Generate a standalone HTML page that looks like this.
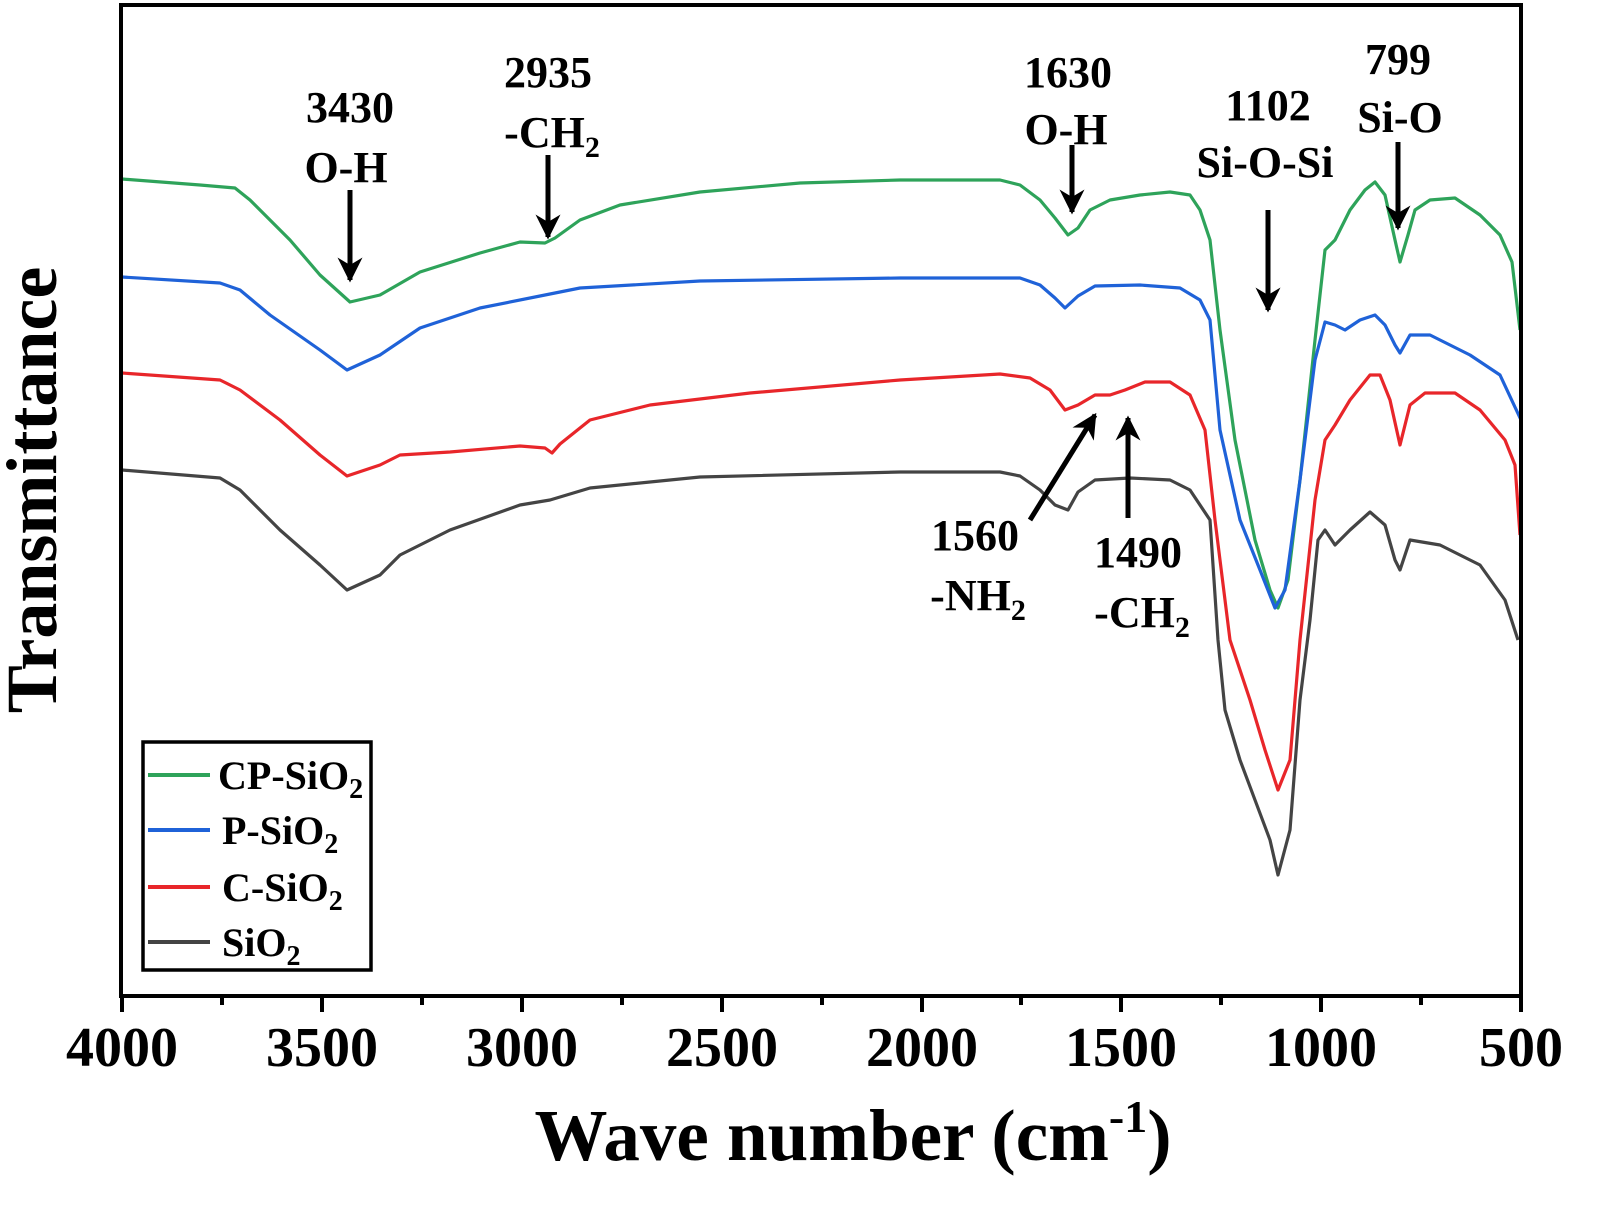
<!DOCTYPE html>
<html><head><meta charset="utf-8"><style>
html,body{margin:0;padding:0;background:#fff;}
svg{display:block;}
text{font-family:"Liberation Serif",serif;font-weight:bold;fill:#000;}
</style></head><body>
<svg width="1600" height="1207" viewBox="0 0 1600 1207" xmlns="http://www.w3.org/2000/svg">
<defs>
<marker id="ah" viewBox="0 0 10 10" refX="9" refY="5" markerWidth="5" markerHeight="5" orient="auto" markerUnits="strokeWidth">
<path d="M0,0 L10,5 L0,10 L3,5 z" fill="#000"/>
</marker>
</defs>
<g fill="none" stroke-width="3.2" stroke-linejoin="round">
<polyline stroke="#2ea35a" points="122,179 200,185 235,188 250,200 290,240 320,275 350,302 380,295 420,272 480,253 520,242 545,243 555,238 580,220 620,205 700,192 800,183 900,180 1000,180 1020,185 1040,200 1055,218 1068,235 1078,228 1090,210 1110,200 1140,195 1170,192 1190,195 1200,210 1210,240 1220,330 1235,440 1255,540 1270,590 1278,608 1288,580 1300,480 1315,340 1325,250 1335,240 1350,210 1365,190 1375,182 1385,195 1395,240 1400,262 1408,235 1415,210 1430,200 1455,198 1480,215 1500,235 1512,262 1520,330"/>
<polyline stroke="#1f62d8" points="122,277 220,283 240,290 270,315 320,350 347,370 380,355 420,328 480,308 540,296 580,288 700,281 900,278 1020,278 1040,285 1055,298 1065,308 1078,296 1095,286 1140,285 1180,288 1200,300 1210,320 1220,430 1240,520 1260,570 1275,608 1285,590 1300,480 1315,360 1325,322 1335,325 1345,330 1360,320 1375,315 1385,325 1395,345 1400,353 1410,335 1430,335 1470,355 1500,375 1521,420"/>
<polyline stroke="#e8262a" points="122,373 220,380 240,390 280,420 320,455 347,476 380,465 400,455 450,452 520,446 545,448 552,453 560,444 590,420 650,405 750,393 900,380 1000,374 1030,378 1050,390 1065,410 1078,405 1095,395 1110,395 1125,390 1145,382 1170,382 1190,395 1205,430 1215,520 1230,640 1250,700 1265,750 1278,790 1290,760 1300,640 1315,500 1325,440 1335,425 1350,400 1370,375 1380,375 1390,400 1400,445 1410,405 1425,393 1455,393 1480,410 1505,440 1515,465 1520,535"/>
<polyline stroke="#444" points="122,470 220,478 240,490 280,530 320,565 347,590 380,575 400,555 450,530 520,505 550,500 590,488 700,477 900,472 1000,472 1020,476 1040,490 1055,505 1068,510 1078,492 1095,480 1130,478 1170,480 1190,490 1210,520 1218,640 1225,710 1240,760 1255,800 1270,840 1278,875 1290,830 1300,700 1310,620 1318,540 1325,530 1335,545 1350,530 1370,512 1385,525 1395,560 1400,570 1410,540 1440,545 1480,565 1505,600 1518,640"/>
</g>
<rect x="121" y="5" width="1400" height="991" fill="none" stroke="#000" stroke-width="4"/>
<g stroke="#000" stroke-width="4">
<line x1="122" y1="996" x2="122" y2="1012"/><line x1="222" y1="996" x2="222" y2="1005"/>
<line x1="322" y1="996" x2="322" y2="1012"/>
<line x1="422" y1="996" x2="422" y2="1005"/><line x1="522" y1="996" x2="522" y2="1012"/>
<line x1="622" y1="996" x2="622" y2="1005"/><line x1="722" y1="996" x2="722" y2="1012"/>
<line x1="822" y1="996" x2="822" y2="1005"/><line x1="922" y1="996" x2="922" y2="1012"/>
<line x1="1021" y1="996" x2="1021" y2="1005"/><line x1="1121" y1="996" x2="1121" y2="1012"/>
<line x1="1221" y1="996" x2="1221" y2="1005"/><line x1="1321" y1="996" x2="1321" y2="1012"/>
<line x1="1421" y1="996" x2="1421" y2="1005"/><line x1="1521" y1="996" x2="1521" y2="1012"/>
</g>
<g font-size="56" text-anchor="middle">
<text x="122" y="1066">4000</text><text x="322" y="1066">3500</text><text x="522" y="1066">3000</text>
<text x="722" y="1066">2500</text><text x="922" y="1066">2000</text><text x="1121" y="1066">1500</text>
<text x="1321" y="1066">1000</text><text x="1521" y="1066">500</text>
</g>
<text x="853" y="1160" font-size="73" text-anchor="middle">Wave number (cm<tspan font-size="46" dy="-28">-1</tspan><tspan dy="28">)</tspan></text>
<text transform="translate(56,490) rotate(-90)" font-size="72" text-anchor="middle">Transmittance</text>
<rect x="143" y="742" width="228" height="228" fill="#fff" stroke="#000" stroke-width="3.5"/>
<g stroke-width="4">
<line x1="148" y1="775" x2="210" y2="775" stroke="#2ea35a"/>
<line x1="148" y1="830" x2="210" y2="830" stroke="#1f62d8"/>
<line x1="148" y1="887" x2="210" y2="887" stroke="#e8262a"/>
<line x1="148" y1="942" x2="210" y2="942" stroke="#444"/>
</g>
<g font-size="40">
<text x="218" y="789">CP-SiO<tspan font-size="28" dy="9">2</tspan></text>
<text x="222" y="844">P-SiO<tspan font-size="28" dy="9">2</tspan></text>
<text x="222" y="901">C-SiO<tspan font-size="28" dy="9">2</tspan></text>
<text x="222" y="956">SiO<tspan font-size="28" dy="9">2</tspan></text>
</g>
<g font-size="44" text-anchor="middle">
<text x="350" y="122">3430</text><text x="346" y="182">O-H</text>
<text x="548" y="87">2935</text><text x="552" y="147">-CH<tspan font-size="30" dy="10">2</tspan></text>
<text x="1068" y="87">1630</text><text x="1066" y="144">O-H</text>
<text x="1268" y="120">1102</text><text x="1265" y="177">Si-O-Si</text>
<text x="1398" y="74">799</text><text x="1400" y="132">Si-O</text>
<text x="975" y="550">1560</text><text x="978" y="610">-NH<tspan font-size="30" dy="10">2</tspan></text>
<text x="1138" y="567">1490</text><text x="1142" y="627">-CH<tspan font-size="30" dy="10">2</tspan></text>
</g>
<g stroke="#000" stroke-width="5" marker-end="url(#ah)">
<line x1="350" y1="190" x2="350" y2="280"/>
<line x1="548" y1="155" x2="548" y2="237"/>
<line x1="1072" y1="145" x2="1072" y2="212"/>
<line x1="1268" y1="210" x2="1268" y2="310"/>
<line x1="1398" y1="142" x2="1398" y2="228"/>
<line x1="1030" y1="520" x2="1095" y2="415"/>
<line x1="1128" y1="518" x2="1128" y2="418"/>
</g>
</svg>
</body></html>
